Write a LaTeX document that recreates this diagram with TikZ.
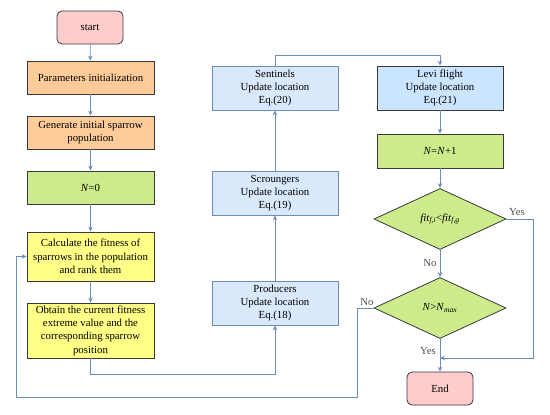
\documentclass[tikz,border=0pt]{standalone}
\usepackage{fontspec}
\setmainfont{Liberation Serif}
\usetikzlibrary{arrows.meta,shapes.geometric}
\definecolor{pinkf}{HTML}{FFCCCC}
\definecolor{orangef}{HTML}{FFCC99}
\definecolor{greenf}{HTML}{CDEB8B}
\definecolor{yellowf}{HTML}{FFFF88}
\definecolor{bluef}{HTML}{DAE8FC}
\definecolor{blued}{HTML}{6C8EBF}
\definecolor{levif}{HTML}{CCE5FF}
\definecolor{darkb}{HTML}{36393D}
\definecolor{lbl}{HTML}{505050}
\begin{document}
\begin{tikzpicture}[x=1pt,y=-1pt,
  every node/.style={font=\rmfamily\fontsize{10.8}{13.3}\selectfont, align=center, inner sep=0pt},
  box/.style={draw=darkb, line width=0.8pt, minimum width=127pt},
  roundbox/.style={box, rounded corners=5pt, fill=pinkf, minimum width=66pt, minimum height=33pt},
  orangebox/.style={box, fill=orangef, minimum height=33pt},
  greenbox/.style={box, fill=greenf},
  yellowbox/.style={box, fill=yellowf},
  bluebox/.style={draw=blued, line width=0.8pt, fill=bluef, minimum width=126pt, minimum height=44pt},
  levibox/.style={box, fill=levif, minimum width=126pt, minimum height=44pt},
  decision/.style={diamond, draw=darkb, line width=0.8pt, fill=greenf, minimum width=132pt, minimum height=61pt, aspect=2.15},
  arr/.style={draw=blued, line width=0.8pt, -{Stealth[length=5pt,width=4.5pt]}},
  lab/.style={text=lbl}
]
\useasboundingbox (0,0) rectangle (550,415);
\node[roundbox] (start) at (90,27.5) {start};
\node[orangebox] (param) at (90.5,77.5) {Parameters initialization};
\node[orangebox] (gen) at (90.5,132.5) {Generate initial sparrow\\population};
\node[greenbox, minimum height=33pt] (n0) at (90.5,187.5) {\textit{N}=0};
\node[yellowbox, minimum height=49pt] (calc) at (90.5,256.5) {Calculate the fitness of\\sparrows in the population\\and rank them};
\node[yellowbox, minimum height=55pt] (obt) at (90.5,330.5) {Obtain the current fitness\\extreme value and the\\corresponding sparrow\\position};
\node[bluebox] (prod) at (275,303) {Producers\\Update location\\Eq.(18)};
\node[bluebox] (scr) at (275,193) {Scroungers\\Update location\\Eq.(19)};
\node[bluebox] (sen) at (275,88) {Sentinels\\Update location\\Eq.(20)};
\node[levibox] (levi) at (440,88) {Levi flight\\Update location\\Eq.(21)};
\node[greenbox, minimum width=126pt, minimum height=34pt] (nn1) at (440,151) {\textit{N}=\textit{N}+1};
\node[decision] (d1) at (440,219) {\textit{fit}\textsubscript{\textit{f,i}}<\textit{fit}\textsubscript{\textit{f,g}}};
\node[decision] (d2) at (440,308) {\textit{N}>\textit{N}\textsubscript{\textit{max}}};
\node[roundbox] (end) at (440,388.5) {End};

\coordinate (yb) at (0,374);
\coordinate (yt) at (0,55);
\coordinate (xr) at (533,0);
\coordinate (yy) at (0,358);
\coordinate (lp) at (357,397);
\coordinate (lq) at (16,397);

\draw[arr] (start) -- (param);
\draw[arr] (param) -- (gen);
\draw[arr] (gen) -- (n0);
\draw[arr] (n0) -- (calc);
\draw[arr] (calc) -- (obt);
\draw[arr] (obt.south) |- (yb -| prod.south) -- (prod.south);
\draw[arr] (prod) -- (scr);
\draw[arr] (scr) -- (sen);
\draw[arr] (sen.north) |- (yt -| levi.north) -- (levi.north);
\draw[arr] (levi) -- (nn1);
\draw[arr] (nn1) -- (d1);
\draw[arr] (d1) -- node[lab, pos=0.5, left=3pt] {No} (d2);
\draw[arr] (d1.east) -- (xr |- d1.east) |- (yy -| end.north);
\draw[arr] (d2) -- (end);
\draw[arr] (d2.west) -- (lp |- d2.west) -- (lp) -- (lq) |- (calc.west);
\node[lab] (yes1) at (517,212) {Yes};
\node[lab] (yes2) at (428,351) {Yes};
\node[lab] (no2) at (367,302) {No};
\end{tikzpicture}
\end{document}
